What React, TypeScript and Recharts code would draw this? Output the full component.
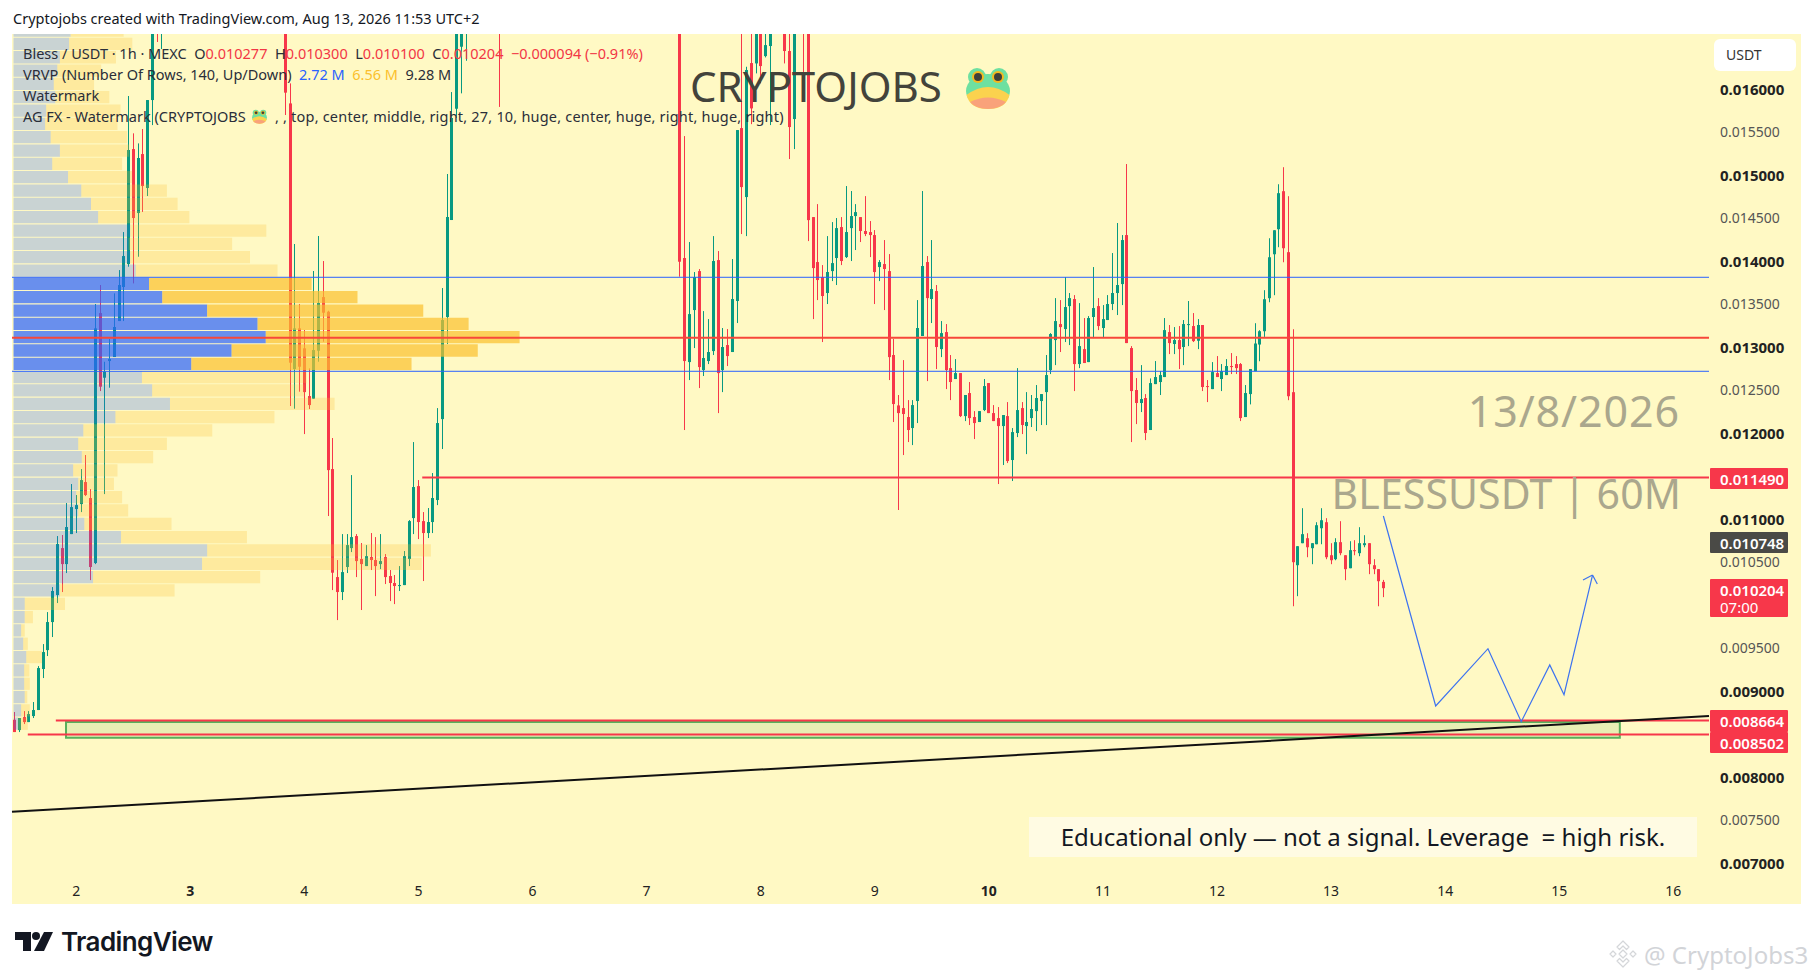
import {
  Bar,
  ComposedChart,
  Line,
  ReferenceArea,
  ReferenceLine,
  XAxis,
  YAxis,
} from 'recharts';

const FONT = '"Noto Sans", sans-serif';
const UP = '#089981';
const DOWN = '#F7374A';
const PANEL = '#FFF9C4';

// candles, [open, high, low, close] in millionths of USDT
const augustRally = [
  [8674, 8764, 8531, 8531], [8554, 8694, 8531, 8694], [8705, 8775, 8624, 8647], [8647, 8775, 8647, 8740],
  [8717, 8880, 8694, 8787], [8787, 9298, 8787, 9275], [9264, 9554, 9159, 9461], [9484, 9926, 9415, 9810],
  [9810, 10217, 9636, 10171], [10124, 10810, 10031, 10717], [10670, 10822, 10159, 10484], [10484, 11194, 10380, 10915],
  [10833, 11415, 10833, 11147], [11124, 11287, 10845, 11170], [11182, 11589, 11089, 11461], [11438, 11752, 11275, 11287],
  [11252, 11357, 10298, 10450], [10496, 13508, 10484, 13225], [13403, 13729, 12496, 12547], [12651, 12837, 11298, 12721],
  [12845, 13101, 12535, 12869], [12892, 13632, 12892, 13241], [13310, 13903, 13310, 13729], [13706, 14345, 13310, 14066],
  [13973, 15927, 13942, 15299], [15310, 15493, 13748, 14508], [14566, 15376, 14058, 15206], [15252, 15543, 14578, 14880],
  [14857, 15880, 14764, 15880], [15880, 17000, 15589, 16900], [17200, 17300, 16555, 16900], [16900, 17500, 16473, 17300],
];
const firstSwing = [
  [17200, 17400, 15706, 15966], [15841, 16074, 12322, 12826], [12752, 14206, 12291, 13225], [13225, 13508, 12489, 12779],
  [12993, 13206, 11996, 12484], [12438, 12760, 12287, 12333], [12407, 13892, 12407, 12973], [12965, 14299, 12837, 13520],
  [13589, 14008, 13070, 13407], [13419, 13430, 11043, 11577], [11589, 11950, 10182, 10384], [10333, 10531, 9833, 10159],
  [10159, 10833, 10066, 10391], [10450, 10833, 10380, 10705], [10670, 11519, 10624, 10798], [10810, 10833, 10333, 10519],
  [10543, 10729, 9950, 10484], [10461, 10705, 10461, 10577], [10566, 10845, 10415, 10531], [10531, 10798, 10112, 10461],
  [10484, 10833, 10426, 10519], [10566, 10601, 10252, 10333], [10345, 10415, 10054, 10264], [10264, 10357, 10019, 10229],
  [10229, 10461, 10171, 10240], [10240, 10636, 10240, 10577], [10543, 10996, 10461, 10984], [11019, 11903, 10833, 11380],
  [11391, 11461, 10775, 10973], [10984, 11089, 10287, 10845], [10845, 11136, 10787, 10973], [10973, 11543, 10845, 11252],
  [11229, 12298, 11170, 12124], [12170, 13694, 11822, 13322], [13357, 15020, 13043, 14520], [14485, 15973, 14485, 15671],
  [15779, 17000, 15671, 16900], [16500, 17200, 15958, 17000], [16800, 17300, 16337, 17100],
];
const loneWick = [[17200, 17400, 15800, 17000]];
const topRange = [
  [17000, 17200, 13826, 14000], [14043, 15461, 12043, 12845], [12833, 14229, 12624, 13391], [13438, 13880, 12996, 13822],
  [13891, 13915, 12531, 12775], [12740, 13426, 12671, 12880], [12845, 13333, 12810, 12950], [12961, 14298, 12915, 14008],
  [14019, 14124, 12240, 12705], [12740, 13229, 12484, 13008], [13031, 13217, 12787, 12903], [12950, 14031, 12950, 13566],
  [13543, 15531, 13287, 15531], [15554, 16800, 14322, 14868], [14752, 16267, 14298, 16229], [16310, 16800, 15600, 15783],
  [16306, 16900, 16190, 16800], [16800, 16900, 16074, 16275], [16391, 16900, 16376, 16519], [16508, 16900, 15589, 16655],
];
const topRangeEnd = [[16900, 17000, 16306, 16450], [16450, 16900, 15194, 15566], [15659, 16900, 15310, 16800]];
const midRange = [
  [16900, 17000, 16074, 16800], [16900, 17000, 14240, 14484], [14519, 14519, 13333, 13926], [13996, 14670, 13554, 13787],
  [13822, 13961, 13066, 13601], [13636, 14298, 13508, 13880], [13891, 14461, 13775, 13984], [14043, 14508, 13729, 14391],
  [14403, 14519, 13961, 14008], [14054, 14880, 14043, 14345], [14391, 14822, 14008, 14531], [14531, 14670, 14136, 14577],
  [14519, 14519, 14229, 14357], [14357, 14763, 14298, 14322], [14345, 14473, 14054, 14310], [14310, 14368, 13508, 13880],
  [13938, 14019, 13775, 13996], [13973, 14252, 13438, 13915], [13891, 14089, 12624, 12891], [12915, 13101, 12136, 12345],
  [12329, 12450, 11113, 12240], [12298, 12856, 11752, 12229], [12194, 12391, 11903, 12043], [12066, 12391, 11868, 12333],
  [12380, 13554, 12124, 13229], [13136, 14822, 13136, 13950], [13996, 14066, 12612, 13577], [13566, 14252, 13287, 13682],
  [13659, 13729, 12752, 13008], [12984, 13310, 12891, 13170], [13182, 13275, 12519, 12740], [12763, 12915, 12391, 12601],
  [12636, 12868, 12636, 12705], [12705, 12705, 12194, 12205], [12205, 12450, 12147, 12450], [12473, 12601, 12101, 12182],
  [12194, 12263, 11938, 12124], [12136, 12263, 12136, 12263], [12275, 12636, 12263, 12554], [12589, 12589, 12240, 12240],
  [12240, 12333, 12147, 12147], [12182, 12310, 11415, 12089], [12089, 12217, 11636, 12217], [12205, 12368, 11659, 11682],
  [11694, 12066, 11450, 12019], [12008, 12763, 11961, 12275], [12298, 12368, 11996, 12101], [12089, 12484, 11763, 12136],
  [12182, 12450, 12078, 12287], [12263, 12566, 12031, 12415], [12380, 12461, 12101, 12461], [12484, 12915, 12101, 12682],
  [12740, 13170, 12694, 13159], [13089, 13577, 12798, 13310], [13275, 13554, 12950, 13240], [13217, 13822, 13066, 13473],
  [13484, 13636, 13031, 13577], [13566, 13612, 12496, 12810], [12810, 13519, 12763, 13019], [12984, 13345, 12822, 12822],
  [12833, 13368, 12833, 13345], [13357, 13938, 13112, 13461], [13484, 13577, 13205, 13252], [13229, 13496, 13124, 13333],
  [13322, 13612, 13322, 13508], [13508, 14101, 13438, 13636], [13636, 14450, 13380, 13729], [13740, 14310, 13496, 14252],
  [14310, 15136, 13054, 13054],
];
const lateRange = [
  [12996, 13019, 11903, 12496], [12508, 12647, 12112, 12357], [12357, 12798, 12252, 12403], [12415, 12461, 11926, 12008],
  [12043, 12643, 12043, 12589], [12577, 12845, 12577, 12659], [12601, 12729, 12450, 12682], [12659, 13345, 12659, 13205],
  [13182, 13264, 12926, 13054], [13043, 13240, 12926, 13089], [13089, 13252, 12752, 12984], [13008, 13322, 12798, 13275],
  [13264, 13543, 13019, 13275], [13252, 13403, 13066, 13077], [13081, 13333, 12984, 13264], [13264, 13264, 12496, 12543],
  [12554, 12624, 12368, 12543], [12519, 12833, 12519, 12717], [12705, 12903, 12659, 12659], [12636, 12810, 12496, 12729],
  [12682, 12868, 12682, 12787], [12787, 12938, 12694, 12775], [12810, 12903, 12694, 12763], [12810, 12822, 12147, 12182],
  [12194, 12566, 12194, 12473], [12461, 12752, 12341, 12752], [12727, 13285, 12727, 13049], [13037, 13204, 12843, 13192],
  [13192, 13669, 13126, 13564], [13576, 14273, 13529, 14052], [14087, 14366, 13611, 14366], [14378, 14901, 14169, 14797],
  [14820, 15099, 13994, 14157], [14111, 14762, 12390, 12436], [12483, 13215, 9994, 10506], [10471, 10692, 10111, 10692],
  [10727, 11134, 10727, 10832], [10785, 10843, 10564, 10680], [10669, 10727, 10483, 10727], [10715, 10971, 10715, 10936],
  [10901, 11134, 10715, 10994], [10971, 11018, 10541, 10564], [10587, 10727, 10483, 10529], [10541, 10785, 10529, 10739],
  [10739, 10983, 10587, 10611], [10587, 10587, 10297, 10425], [10436, 10750, 10436, 10646], [10646, 10762, 10587, 10634],
  [10611, 10913, 10576, 10727], [10704, 10820, 10680, 10727], [10727, 10727, 10367, 10483], [10471, 10541, 10367, 10425],
  [10425, 10425, 9994, 10285], [10277, 10300, 10100, 10204],
];
// first hourly slot of each run; everything between them is above the visible range
const candleRuns: [number, number[][]][] = [
  [0, augustRally], [57, firstSwing], [102, loneWick], [140, topRange],
  [162, topRangeEnd], [166, midRange], [235, lateRange],
];

const SLOT_COUNT = 357;
const PRICE_DOMAIN = [0.006892, 0.016648];
// span axis runs across the whole pane, the profile's longest row takes 30% of it
const SPAN_DOMAIN = [0, 333];

// volume profile, % of the biggest row, top row first
const VOL_TOP_PRICE = 0.016759;
const VOL_STEP = 0.000155;
const VALUE_AREA = [19, 25];
const volUp = [
  11.5, 11.2, 9.4, 8.9, 8.2, 8.5, 6.7, 6.5, 7.6, 9.4, 7.9, 11, 13.6, 15.5, 16.9, 23.2, 22.9, 23.2, 24.3,
  26.9, 29.5, 38.3, 48.2, 49.8, 43.1, 35.2, 25.5, 27.5, 31, 20.3, 14, 13, 13.7, 12, 13, 12.6, 13, 14.2,
  21.4, 38.3, 37.3, 15.9, 9.4, 2.5, 2.5, 1.8, 2.2, 2.8, 2.4, 2.4, 2.5, 1.8, 1.2,
];
const volDown = [
  10.4, 12.4, 11, 8.6, 7.9, 10.6, 14.6, 14.2, 15, 13.6, 13.7, 12.6, 16.8, 17, 17.9, 26.7, 20.3, 23.5, 27.8,
  31.9, 38.3, 42.4, 41.4, 49.8, 48.3, 43.2, 32.3, 29.9, 32.3, 31.2, 25.3, 17.4, 14, 8.7, 7, 9, 9.8, 17.1,
  24.7, 43.9, 43.1, 32.8, 22.5, 7.9, 1.6, 0.7, 0.9, 3.1, 1, 1.1, 0.5, 1.7, 1.9,
];

// the hand drawn projection, slot and price
const forecastSlots = [288, 299, 310, 317, 323, 326, 332];
const forecastPrices = [0.011043, 0.008834, 0.0095, 0.008651, 0.009311, 0.008965, 0.010357];

const dayLabels = ['2', '3', '4', '5', '6', '7', '8', '9', '10', '11', '12', '13', '14', '15', '16'];
const boldDays = ['3', '10'];
const priceTicks = [
  0.016, 0.0155, 0.015, 0.0145, 0.014, 0.0135, 0.013, 0.0125, 0.012, 0.011, 0.0105, 0.0095, 0.009, 0.008,
  0.0075, 0.007,
];
const priceTags = [
  { price: 0.01149, fill: '#F7374A', top: 468, bottom: 489, texts: ['0.011490'] },
  { price: 0.010748, fill: '#4A4A46', top: 532, bottom: 553, texts: ['0.010748'] },
  { price: 0.010204, fill: '#F7374A', top: 579, bottom: 617, texts: ['0.010204', '07:00'] },
  { price: 0.008664, fill: '#F7374A', top: 710, bottom: 732, texts: ['0.008664'] },
  { price: 0.008502, fill: '#F7374A', top: 732, bottom: 753, texts: ['0.008502'] },
];

const rows = Array.from({ length: SLOT_COUNT }, (_, slot) => ({
  slot,
  paneStart: 0,
  open: null as number | null,
  high: null as number | null,
  low: null as number | null,
  close: null as number | null,
  forecast: null as number | null,
}));
candleRuns.forEach(([start, run]) => {
  run.forEach(([o, h, l, c], i) => {
    Object.assign(rows[start + i], { open: o / 1e6, high: h / 1e6, low: l / 1e6, close: c / 1e6 });
  });
});
forecastSlots.forEach((slot, i) => {
  rows[slot].forecast = forecastPrices[i];
});

const dayTicks = dayLabels.map((_, i) => 13 + i * 24);
const allPriceTicks = [...priceTicks, ...priceTags.map((t) => t.price)];

function Candle(props: any) {
  const { x, y, width, height, payload } = props;
  if (payload.high == null || payload.high === payload.low) return null;
  const top = Math.min(y, y + height);
  const h = Math.abs(height);
  const perUnit = h / (payload.high - payload.low);
  const bodyTop = top + (payload.high - Math.max(payload.open, payload.close)) * perUnit;
  const bodyH = Math.max(1, Math.abs(payload.open - payload.close) * perUnit);
  const color = payload.close >= payload.open ? UP : DOWN;
  const left = Math.round(x);
  return (
    <g>
      <rect x={left + Math.floor(width / 2)} y={top} width={1} height={h} fill={color} />
      <rect x={left} y={bodyTop} width={width} height={bodyH} fill={color} />
    </g>
  );
}

function DayTick({ x, y, payload }: any) {
  const label = dayLabels[dayTicks.indexOf(payload.value)];
  return (
    <text
      x={x}
      y={y + 15}
      textAnchor="middle"
      dominantBaseline="central"
      fontFamily={FONT}
      fontSize={14}
      fontWeight={boldDays.includes(label) ? 700 : 400}
      fill="#222"
    >
      {label}
    </text>
  );
}

function PriceTick({ x, y, payload }: any) {
  const tag = priceTags.find((t) => t.price === payload.value);
  if (tag) {
    const lineH = tag.texts.length > 1 ? 17 : 0;
    const textTop = tag.texts.length > 1 ? tag.top + 11 : (tag.top + tag.bottom) / 2;
    return (
      <g>
        <rect x={x + 1} y={tag.top} width={78} height={tag.bottom - tag.top} fill={tag.fill} rx={1} />
        {tag.texts.map((t, i) => (
          <text
            key={t}
            x={x + 11}
            y={textTop + i * lineH}
            dominantBaseline="central"
            fontFamily={FONT}
            fontSize={15}
            fontWeight={i === 0 ? 600 : 400}
            fill="#fff"
          >
            {t}
          </text>
        ))}
      </g>
    );
  }
  const major = Math.round(payload.value * 1e6) % 1000 === 0;
  return (
    <text
      x={x + 11}
      y={y - 1}
      dominantBaseline="central"
      fontFamily={FONT}
      fontSize={major ? 15 : 14}
      fontWeight={major ? 700 : 400}
      fill={major ? '#222' : '#555'}
    >
      {payload.value.toFixed(6)}
    </text>
  );
}

function Frog({ left, top, size }: { left: number; top: number; size: number }) {
  return (
    <svg style={{ position: 'absolute', left, top }} width={size} height={size} viewBox="0 0 44 42">
      <circle cx="11" cy="10" r="9" fill="#6EE0A0" />
      <circle cx="33" cy="10" r="9" fill="#6EE0A0" />
      <ellipse cx="22" cy="24" rx="22" ry="17" fill="#6EE0A0" />
      <path d="M0.5 28 Q22 12 43.5 28 Q40 42 22 42 Q4 42 0.5 28Z" fill="#FBD24E" />
      <path d="M4 35 Q22 26 40 35 Q34 42 22 42 Q10 42 4 35Z" fill="#F9A27A" />
      <circle cx="12" cy="10" r="6" fill="#F5B81F" />
      <circle cx="32" cy="10" r="6" fill="#F5B81F" />
      <circle cx="12" cy="10" r="4" fill="#3F3F3A" />
      <circle cx="32" cy="10" r="4" fill="#3F3F3A" />
    </svg>
  );
}

const legendLine: React.CSSProperties = {
  position: 'absolute',
  left: 23,
  fontFamily: FONT,
  fontSize: 14.5,
  lineHeight: '20px',
  color: '#2A2E39',
  whiteSpace: 'pre',
};
const red = { color: '#F23645' };

export default function App() {
  return (
    <div style={{ position: 'fixed', left: 0, top: 0, width: 1814, height: 980, background: '#fff', overflow: 'hidden' }}>
      <div style={{ position: 'absolute', left: 12, top: 34, width: 1789, height: 870, background: PANEL }} />
      <div style={{ position: 'absolute', left: 13, top: 8, fontFamily: FONT, fontSize: 14.5, lineHeight: '20px', color: '#131722' }}>
        Cryptojobs created with TradingView.com, Aug 13, 2026 11:53 UTC+2
      </div>

      {/* price pane: axes and candles */}
      <div style={{ position: 'absolute', left: 0, top: 0 }}>
        <ComposedChart
          width={1814}
          height={980}
          data={rows}
          barSize={3}
          margin={{ top: 34, right: 13, bottom: 76, left: 12 }}
        >
          <XAxis
            xAxisId="slot"
            dataKey="slot"
            type="category"
            scale="band"
            ticks={dayTicks}
            interval={0}
            height={31}
            axisLine={false}
            tickLine={false}
            tickSize={0}
            tick={<DayTick />}
          />
          <YAxis
            orientation="right"
            type="number"
            domain={PRICE_DOMAIN}
            allowDataOverflow
            ticks={allPriceTicks}
            interval={0}
            width={92}
            axisLine={false}
            tickLine={false}
            tickSize={0}
            tickMargin={0}
            tick={<PriceTick />}
          />

          <Bar
            xAxisId="slot"
            dataKey={(d: any) => (d.high == null ? null : [d.low, d.high])}
            shape={<Candle />}
            isAnimationActive={false}
          />
        </ComposedChart>
      </div>

      {/* volume profile and drawings sit over the candles, same geometry */}
      <div style={{ position: 'absolute', left: 0, top: 0 }}>
        <ComposedChart
          width={1814}
          height={980}
          data={rows}
          margin={{ top: 34, right: 105, bottom: 107, left: 12 }}
        >
          <XAxis xAxisId="slot" dataKey="slot" type="category" scale="band" hide />
          <XAxis xAxisId="span" dataKey="paneStart" type="number" domain={SPAN_DOMAIN} allowDataOverflow hide />
          <YAxis type="number" domain={PRICE_DOMAIN} allowDataOverflow hide />

          <ReferenceArea
            xAxisId="span"
            x1={10.6}
            x2={315.5}
            y1={0.008465}
            y2={0.008648}
            fill="#4CAF50"
            fillOpacity={0.13}
            stroke="#58B05C"
            strokeWidth={2}
            strokeOpacity={1}
          />

          {volUp.map((up, i) => {
            const strong = i >= VALUE_AREA[0] && i <= VALUE_AREA[1];
            const top = Math.min(VOL_TOP_PRICE - i * VOL_STEP, PRICE_DOMAIN[1]);
            const bottom = VOL_TOP_PRICE - i * VOL_STEP - VOL_STEP * 0.92;
            return (
              <ReferenceArea
                key={`up${i}`}
                xAxisId="span"
                x1={0.3}
                x2={up}
                y1={bottom}
                y2={top}
                fill="#2962FF"
                fillOpacity={strong ? 0.7 : 0.25}
                strokeWidth={0}
              />
            );
          })}
          {volDown.map((down, i) => {
            const strong = i >= VALUE_AREA[0] && i <= VALUE_AREA[1];
            const top = Math.min(VOL_TOP_PRICE - i * VOL_STEP, PRICE_DOMAIN[1]);
            const bottom = VOL_TOP_PRICE - i * VOL_STEP - VOL_STEP * 0.92;
            return (
              <ReferenceArea
                key={`down${i}`}
                xAxisId="span"
                x1={volUp[i]}
                x2={volUp[i] + down}
                y1={bottom}
                y2={top}
                fill="#FBC02D"
                fillOpacity={strong ? 0.7 : 0.25}
                strokeWidth={0}
              />
            );
          })}

          <ReferenceLine xAxisId="span" y={0.013819} stroke="#2962FF" strokeWidth={1} />
          <ReferenceLine xAxisId="span" y={0.012726} stroke="#2962FF" strokeWidth={1} />
          <ReferenceLine xAxisId="span" y={0.013116} stroke="#F7473A" strokeWidth={2} />
          <ReferenceLine
            xAxisId="span"
            segment={[{ x: 80.5, y: 0.01149 }, { x: 333, y: 0.01149 }]}
            stroke={DOWN}
            strokeWidth={2}
          />
          <ReferenceLine
            xAxisId="span"
            segment={[{ x: 8.6, y: 0.008664 }, { x: 333, y: 0.008664 }]}
            stroke={DOWN}
            strokeWidth={2}
          />
          <ReferenceLine
            xAxisId="span"
            segment={[{ x: 3.1, y: 0.008502 }, { x: 333, y: 0.008502 }]}
            stroke={DOWN}
            strokeWidth={2}
          />
          <ReferenceLine
            xAxisId="span"
            segment={[{ x: 0, y: 0.007605 }, { x: 333, y: 0.008717 }]}
            stroke="#111"
            strokeWidth={2}
          />
          <ReferenceLine
            xAxisId="slot"
            segment={[{ x: 330, y: 0.0103 }, { x: 332, y: 0.010357 }]}
            stroke="#3C72F0"
            strokeWidth={1.2}
          />
          <ReferenceLine
            xAxisId="slot"
            segment={[{ x: 333, y: 0.010252 }, { x: 332, y: 0.010357 }]}
            stroke="#3C72F0"
            strokeWidth={1.2}
          />
          <Line
            xAxisId="slot"
            dataKey="forecast"
            connectNulls
            dot={false}
            stroke="#3C72F0"
            strokeWidth={1.2}
            isAnimationActive={false}
            legendType="none"
          />
        </ComposedChart>
      </div>

      <div style={{ ...legendLine, top: 43 }}>
        Bless / USDT · 1h · MEXC  O<span style={red}>0.010277</span>  H<span style={red}>0.010300</span>  L
        <span style={red}>0.010100</span>  C<span style={red}>0.010204</span>  <span style={red}>−0.000094 (−0.91%)</span>
      </div>
      <div style={{ ...legendLine, top: 64 }}>
        VRVP (Number Of Rows, 140, Up/Down)  <span style={{ color: '#2962FF' }}>2.72 M</span>  <span style={{ color: '#FBC02D' }}>6.56 M</span>  9.28 M
      </div>
      <div style={{ ...legendLine, top: 85 }}>Watermark</div>
      <div style={{ ...legendLine, top: 106 }}>AG FX - Watermark (CRYPTOJOBS</div>
      <Frog left={252} top={109} size={15} />
      <div style={{ ...legendLine, top: 106, left: 275, letterSpacing: 0.2 }}>
        , , top, center, middle, right, 27, 10, huge, center, huge, right, huge, right)
      </div>

      <div style={{ position: 'absolute', left: 690, top: 57, fontFamily: FONT, fontSize: 42, lineHeight: '58px', color: '#43433B' }}>
        CRYPTOJOBS
      </div>
      <Frog left={966} top={66} size={44} />
      <div style={{ position: 'absolute', right: 1814 - 1680, top: 382, fontFamily: FONT, fontSize: 43, lineHeight: '58px', letterSpacing: 0.9, color: '#AAA78D' }}>
        13/8/2026
      </div>
      <div style={{ position: 'absolute', right: 1814 - 1681, top: 464, fontFamily: FONT, fontSize: 41, lineHeight: '58px', letterSpacing: 0.1, color: '#AAA78D', whiteSpace: 'pre' }}>
        BLESSUSDT | 60M
      </div>

      <div
        style={{
          position: 'absolute',
          left: 1029,
          top: 817,
          width: 668,
          height: 40,
          background: '#FFFBE3',
          textAlign: 'center',
          fontFamily: FONT,
          fontSize: 24,
          lineHeight: '40px',
          color: '#131722',
          whiteSpace: 'pre',
        }}
      >
        Educational only — not a signal. Leverage  = high risk.
      </div>

      <div
        style={{
          position: 'absolute',
          left: 1714,
          top: 39,
          width: 82,
          height: 32,
          boxSizing: 'border-box',
          background: '#fff',
          borderRadius: 6,
          paddingLeft: 12,
          fontFamily: FONT,
          fontSize: 14,
          lineHeight: '32px',
          color: '#333',
        }}
      >
        USDT
      </div>

      <svg style={{ position: 'absolute', left: 15, top: 932 }} width={38} height={20} viewBox="0 0 38 20">
        <path d="M0 0H16V19H8V8H0Z" fill="#131722" />
        <circle cx="21" cy="4" r="4" fill="#131722" />
        <path d="M29 0H38L29 19H19Z" fill="#131722" />
      </svg>
      <div style={{ position: 'absolute', left: 61, top: 924, fontFamily: 'Inter, sans-serif', fontWeight: 600, fontSize: 26, lineHeight: '36px', letterSpacing: -0.6, color: '#131722' }}>
        TradingView
      </div>

      <svg style={{ position: 'absolute', left: 1609, top: 940 }} width={28} height={28} viewBox="0 0 28 28">
        <g fill="#fff" stroke="#D4D6D9" strokeWidth={1.2} strokeLinejoin="round">
          <path d="M14 1L20 7L17.5 9.5L14 6L10.5 9.5L8 7Z" />
          <path d="M14 27L20 21L17.5 18.5L14 22L10.5 18.5L8 21Z" />
          <path d="M4 11L7 14L4 17L1 14Z" />
          <path d="M24 11L27 14L24 17L21 14Z" />
          <path d="M14 10L18 14L14 18L10 14Z" />
        </g>
      </svg>
      <div style={{ position: 'absolute', left: 1644, top: 938, fontFamily: FONT, fontSize: 24, lineHeight: '34px', color: '#D2D4D8', whiteSpace: 'pre' }}>
        @ CryptoJobs3
      </div>
    </div>
  );
}
